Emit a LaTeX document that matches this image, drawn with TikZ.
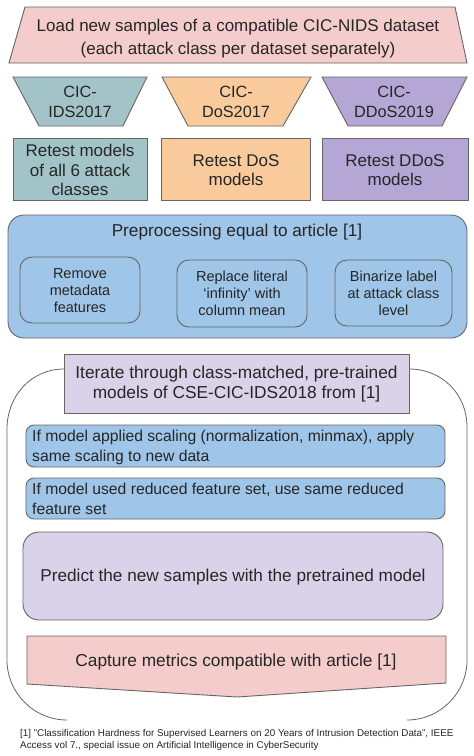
\documentclass[tikz,border=0pt]{standalone}
\usepackage{fontspec}
\setmainfont{Liberation Sans}
\definecolor{pinkc}{HTML}{F4CCCC}
\definecolor{tealc}{HTML}{A2C4C9}
\definecolor{orangec}{HTML}{F9CB9C}
\definecolor{purplec}{HTML}{B4A7D6}
\definecolor{bluec}{HTML}{9FC5E8}
\definecolor{lpurplec}{HTML}{D9D2E9}
\definecolor{edgec}{HTML}{666666}
\begin{document}
\begin{tikzpicture}[x=1pt,y=-1pt,
  shapeline/.style={draw=edgec, line width=0.9pt},
  txt/.style={inner sep=0pt, align=center, text=black!85},
  bigf/.style={font=\fontsize{17}{23}\selectfont},
  cicf/.style={font=\fontsize{16.3}{20.5}\selectfont},
  midf/.style={font=\fontsize{17}{19.5}\selectfont},
  smallf/.style={font=\fontsize{14.5}{17}\selectfont},
  iff/.style={font=\fontsize{15.7}{20}\selectfont},
  loopline/.style={draw=edgec, line width=0.8pt}
]
\useasboundingbox (0,0) rectangle (474,756);
\fill[white] (0,0) rectangle (474,756);

% top trapezoid
\draw[shapeline, fill=pinkc] (25,7) -- (455,7) -- (467,63) -- (9,63) -- cycle;
\node[txt,bigf] (load) at (238,38.5) {Load new samples of a compatible CIC-NIDS dataset\\(each attack class per dataset separately)};

% dataset trapezoids
\draw[shapeline, fill=tealc] (13,77) -- (147,77) -- (123,126) -- (39,126) -- cycle;
\draw[shapeline, fill=orangec] (162,77) -- (311,77) -- (283,126) -- (188,126) -- cycle;
\draw[shapeline, fill=purplec] (322,77) -- (467,77) -- (442,126) -- (348,126) -- cycle;
\node[txt,cicf] (ids) at (80,102) {CIC-\\IDS2017};
\node[txt,cicf] (dos) at (236,102) {CIC-\\DoS2017};
\node[txt,cicf] (ddos) at (394,102) {CIC-\\DDoS2019};

% retest boxes
\draw[shapeline, fill=tealc] (13,138) rectangle (147,200);
\draw[shapeline, fill=orangec] (161,138) rectangle (310,200);
\draw[shapeline, fill=purplec] (322,138) rectangle (468,200);
\node[txt,midf] (rt1) at (80,170) {Retest models\\of all 6 attack\\classes};
\node[txt,midf] (rt2) at (236,170) {Retest DoS\\models};
\node[txt,midf] (rt3) at (395,170) {Retest DDoS\\models};

% preprocessing
\draw[shapeline, fill=bluec, rounded corners=16pt] (8,215) rectangle (467,338);
\node[txt,font=\fontsize{17.2}{19}\selectfont] (pre) at (237,232) {Preprocessing equal to article [1]};
\draw[shapeline, fill=bluec, rounded corners=12pt] (20,257) rectangle (140,323);
\draw[shapeline, fill=bluec, rounded corners=12pt] (177,260) rectangle (307,327);
\draw[shapeline, fill=bluec, rounded corners=12pt] (335,260) rectangle (452,326);
\node[txt,smallf] (rm) at (80,291) {Remove\\metadata\\features};
\node[txt,smallf] (rep) at (242,293.5) {Replace literal\\‘infinity’ with\\column mean};
\node[txt,smallf] (bin) at (393.5,293.5) {Binarize label\\at attack class\\level};

% loop outline
\draw[loopline] (64,369) .. controls (31,369) and (7,396) .. (7,429) -- (7,660)
  .. controls (7,693) and (34,720) .. (67,720);
\draw[loopline] (409,369) .. controls (442,369) and (467,394) .. (467,427) -- (467,660)
  .. controls (467,693) and (440,720) .. (407,720);

% iterate
\draw[shapeline, fill=lpurplec] (64,354) rectangle (409,413);
\node[txt,font=\fontsize{17.3}{20}\selectfont] (it) at (236.5,384.5) {Iterate through class-matched, pre-trained\\models of CSE-CIC-IDS2018 from [1]};

% if boxes
\draw[shapeline, fill=bluec, rounded corners=8pt] (26,425) rectangle (445,467);
\node[txt,iff,align=left,anchor=west] (sc) at (32,447) {If model applied scaling (normalization, minmax), apply\\same scaling to new data};
\draw[shapeline, fill=bluec, rounded corners=8pt] (26,478) rectangle (445,519);
\node[txt,iff,align=left,anchor=west] (fs) at (32,498.5) {If model used reduced feature set, use same reduced\\feature set};

% predict
\draw[shapeline, fill=lpurplec, rounded corners=16pt] (23,532) rectangle (443,620);
\node[txt,font=\fontsize{17.2}{20}\selectfont] (pred) at (233,577) {Predict the new samples with the pretrained model};

% capture
\draw[shapeline, fill=pinkc] (27,636) -- (446,636) -- (446,683) -- (237,697) -- (27,684) -- cycle;
\node[txt,font=\fontsize{17.3}{20}\selectfont] (cap) at (236,662) {Capture metrics compatible with article [1]};

% footnote
\node[txt,align=left,anchor=north west,font=\fontsize{9.85}{11.5}\selectfont] (fn) at (20,729.5) {[1] "Classification Hardness for Supervised Learners on 20 Years of Intrusion Detection Data", IEEE\\Access vol 7., special issue on Artificial Intelligence in CyberSecurity};
\end{tikzpicture}
\end{document}
